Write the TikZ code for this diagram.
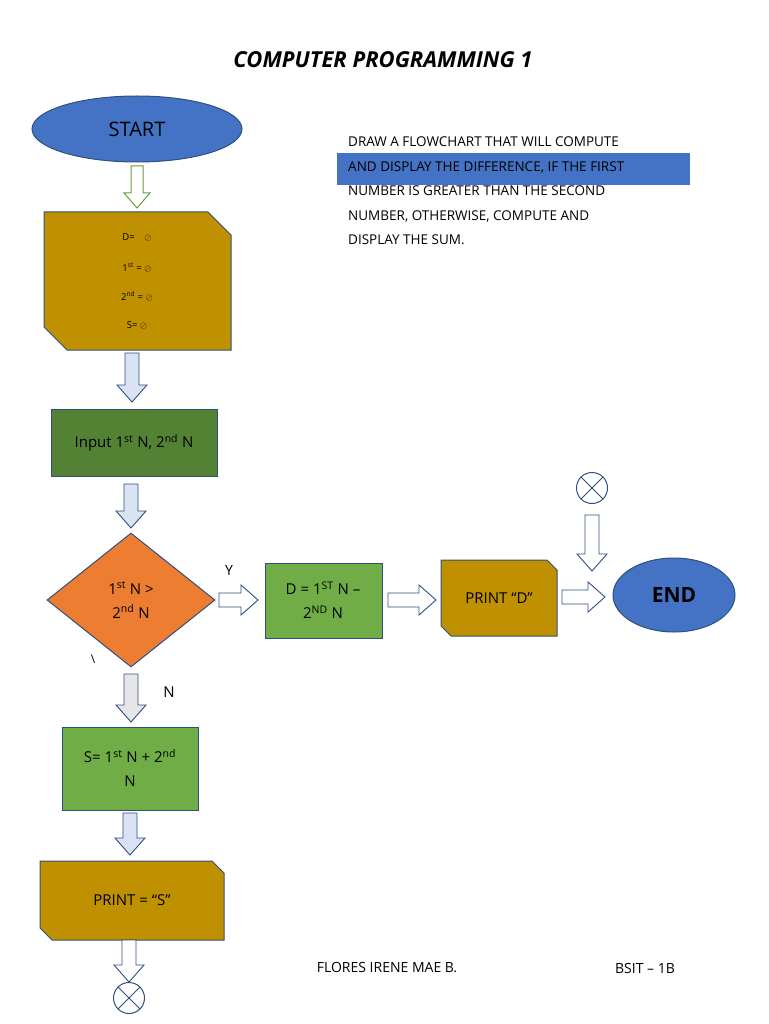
\documentclass[tikz,border=0pt]{standalone}
\usepackage{fontspec}
\setmainfont{Open Sans}
\usetikzlibrary{shapes.geometric}
\newcommand\mydown[4]{% x, y1, y2, fill
  \draw[barrow,fill=#4] (#1-7,#2) -- (#1+7,#2) -- (#1+7,#3-17) -- (#1+15,#3-17) -- (#1,#3) -- (#1-15,#3-17) -- (#1-7,#3-17) -- cycle;}
\newcommand\myright[4]{% y, x1, x2, fill
  \draw[barrow,fill=#4] (#2,#1-7) -- (#2,#1+7) -- (#3-17,#1+7) -- (#3-17,#1+15) -- (#3,#1) -- (#3-17,#1-15) -- (#3-17,#1-7) -- cycle;}
\newcommand\cutbox[6]{% name x1 y1 x2 y2 cut
  \draw[box,fill=gold] (#2,#3) -- (#4-#6,#3) -- (#4,#3+#6) -- (#4,#5) -- (#2+#6,#5) -- (#2,#5-#6) -- cycle;
  \coordinate (#1) at ({(#2+#4)/2},{(#3+#5)/2});}
\definecolor{blueF}{HTML}{4472C4}
\definecolor{gold}{HTML}{BF9000}
\definecolor{dgreen}{HTML}{548235}
\definecolor{lgreen}{HTML}{70AD47}
\definecolor{orangeF}{HTML}{ED7D31}
\definecolor{edge}{HTML}{2F4F7F}
\definecolor{lblue}{HTML}{DAE3F3}
\definecolor{lgray}{HTML}{E7E6E6}
\begin{document}
\begin{tikzpicture}[x=1pt,y=-1pt,
  box/.style={draw=edge,line width=1pt},
  barrow/.style={draw=edge,line width=0.9pt,line join=miter},
  txt/.style={font=\fontsize{15}{24}\selectfont,align=center},
  cross/.style={circle,draw=edge,line width=1pt,minimum size=31pt,inner sep=0pt,path picture={\draw[edge,line width=1pt] (path picture bounding box.north west)--(path picture bounding box.south east) (path picture bounding box.north east)--(path picture bounding box.south west);}}]
\useasboundingbox (0,0) rectangle (768,1024);
\node[font=\fontsize{22}{26}\selectfont\bfseries\itshape] (title) at (383,60) {COMPUTER PROGRAMMING 1};
% description
\fill[blueF] (337,153) rectangle (690,185);
\node[anchor=north west,align=left,font=\fontsize{13.5}{24.5}\selectfont,inner sep=0pt] (desc) at (348,137) {DRAW A FLOWCHART THAT WILL COMPUTE\\AND DISPLAY THE DIFFERENCE, IF THE FIRST\\NUMBER IS GREATER THAN THE SECOND\\NUMBER, OTHERWISE, COMPUTE AND\\DISPLAY THE SUM.};
% start
\node[ellipse,box,fill=blueF,minimum width=210pt,minimum height=66pt,font=\fontsize{20}{24}\selectfont] (start) at (137,129) {START};
\draw[line width=1pt,draw=lgreen!90!black,fill=white] (131,166) -- (143,166) -- (143,193) -- (150,193) -- (137,208) -- (124,193) -- (131,193) -- cycle;
% init
\cutbox{init}{44}{212}{231}{350}{23}
\begin{scope}[font=\fontsize{9.5}{10}\selectfont]
\node (i1) at (137,238) {D=\quad$\oslash$};
\node (i2) at (137,268) {1\textsuperscript{st} = $\oslash$};
\node (i3) at (137,296) {2\textsuperscript{nd} = $\oslash$};
\node (i4) at (137,325) {S= $\oslash$};
\end{scope}
\mydown{132}{353}{402}{lblue}
% input
\draw[box,fill=dgreen] (51,409) rectangle (217,476);
\node[txt] (input) at (134,443) {Input 1\textsuperscript{st} N, 2\textsuperscript{nd} N};
\mydown{131}{484}{528}{lblue}
% decision
\node[diamond,box,fill=orangeF,minimum width=168pt,minimum height=134pt,inner sep=0pt,txt] (dec) at (131,600) {};
\node[txt] at (131,600) {1\textsuperscript{st} N >\\2\textsuperscript{nd} N};
\node[font=\fontsize{14}{16}\selectfont] (y) at (229,570) {Y};
\node[font=\fontsize{12}{14}\selectfont] (bs) at (93,659) {\textbackslash};
\myright{600}{219}{258}{white}
\draw[box,fill=lgreen] (265,563) rectangle (382,638);
\node[txt] (dbox) at (323,600) {D = 1\textsuperscript{ST} N –\\2\textsuperscript{ND} N};
\myright{600}{388}{436}{white}
\cutbox{pd}{441}{560}{557}{636}{10}
\node[txt] (pdt) at (499,598) {PRINT “D”};
\myright{597}{562}{605}{white}
\node[ellipse,box,fill=blueF,minimum width=122pt,minimum height=74pt,font=\fontsize{21}{24}\selectfont\bfseries] (end) at (674,595) {END};
\node[cross] (c1) at (592,488) {};
\mydown{592}{515}{571}{white}
% no branch
\mydown{131}{674}{722}{lgray}
\node[font=\fontsize{15}{16}\selectfont] (n) at (169,692) {N};
\draw[box,fill=lgreen] (62,727) rectangle (198,810);
\node[txt] (sbox) at (130,768) {S= 1\textsuperscript{st} N + 2\textsuperscript{nd}\\N};
\mydown{130}{813}{855}{lblue}
\cutbox{ps}{40}{861}{224}{940}{12}
\node[txt] (pst) at (132,900) {PRINT = “S”};
\mydown{129}{940}{982}{white}
\node[cross] (c2) at (129,998) {};
% footer
\node[font=\fontsize{14}{16}\selectfont] (f1) at (387,968) {FLORES IRENE MAE B.};
\node[font=\fontsize{14}{16}\selectfont] (f2) at (645,968) {BSIT – 1B};
\end{tikzpicture}
\end{document}
